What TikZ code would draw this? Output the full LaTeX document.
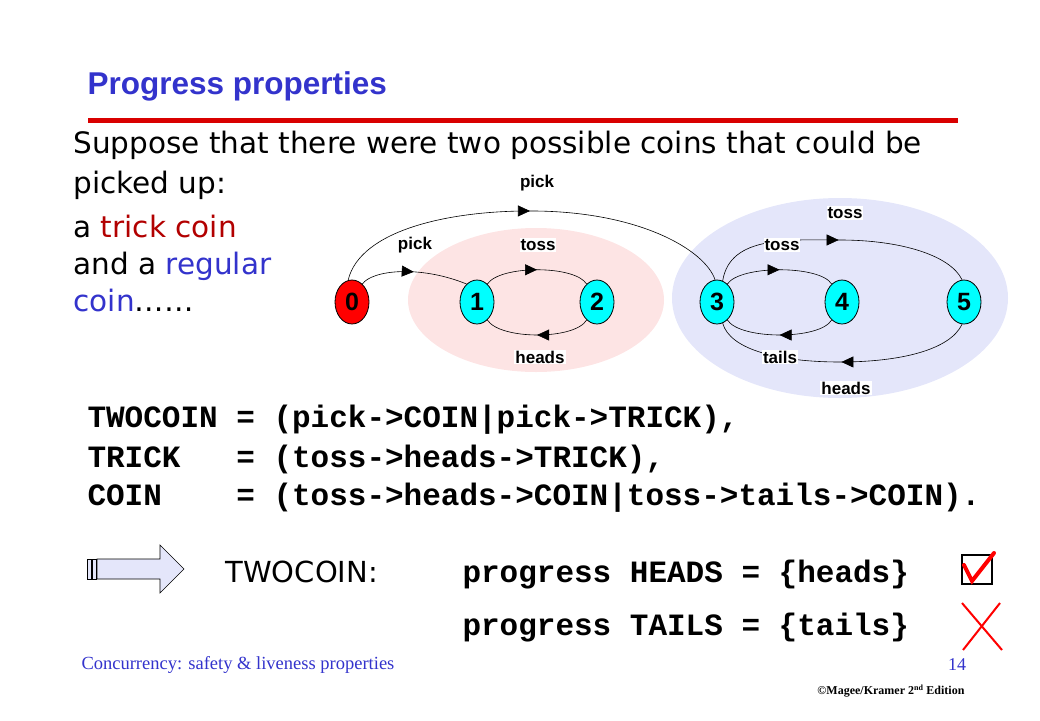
\documentclass[tikz,border=0pt]{standalone}
\usepackage{fontspec}
\setmainfont{Liberation Sans}
\newfontfamily\monob{Liberation Mono}
\newfontfamily\serifb{Liberation Serif}
\newfontfamily\comicf{DejaVu Sans}
\usetikzlibrary{decorations.markings,arrows.meta,shapes.geometric}
\definecolor{titleblue}{RGB}{51,51,204}
\definecolor{pinkbg}{RGB}{253,228,228}
\definecolor{bluebg}{RGB}{228,230,250}
\definecolor{cyanst}{RGB}{0,255,255}
\tikzset{
 st/.style={ellipse,draw,line width=0.8pt,minimum width=34pt,minimum height=44pt,inner sep=0pt,font=\bfseries\fontsize{25}{25}\selectfont,fill=cyanst},
 tr/.style={draw,line width=0.6pt,postaction={decorate},decoration={markings,mark=at position 0.5 with {\arrow{Triangle[length=12pt,width=11pt]}}}},
 lb/.style={fill=white,inner sep=1pt,font=\bfseries\fontsize{17}{17}\selectfont},
 body/.style={anchor=west,font=\comicf\fontsize{29.5}{39}\selectfont},
 code/.style={anchor=west,font=\monob\bfseries\fontsize{31}{31}\selectfont}
}
\begin{document}
\begin{tikzpicture}[x=1pt,y=-1pt]
\useasboundingbox (0,0) rectangle (1040,720);
\node[anchor=west,text=titleblue,font=\bfseries\fontsize{31.5}{31.5}\selectfont] (title) at (84,86) {Progress properties};
\fill[red!85!black] (88,118) rectangle (958,123);
\node[body] (sup1) at (70,145) {Suppose that there were two possible coins that could be};
\node[body] (sup2) at (70,185) {picked up:};
\node[body,align=left,anchor=north west] (trick) at (70,212) {a \textcolor{red!70!black}{trick coin}\\[-2pt]and a \textcolor{titleblue}{regular}\\[-2pt]\textcolor{titleblue}{coin}\dots\dots};
\fill[pinkbg] (536,300) ellipse [x radius=128, y radius=72];
\fill[bluebg] (840,298) ellipse [x radius=168, y radius=100];
\node[st,fill=red] (s0) at (352,302) {0};
\node[st] (s1) at (477,302) {1};
\node[st] (s2) at (597,302) {2};
\node[st] (s3) at (717,302) {3};
\node[st] (s4) at (842,302) {4};
\node[st] (s5) at (964,302) {5};
\draw[tr] (s0.60) .. controls (372,270) and (420,265) .. (s1.120);
\draw[tr] (s0.100) .. controls (360,230) and (450,210) .. (535,211) .. controls (640,212) and (705,250) .. (s3.95);
\draw[tr] (s1.60) .. controls (500,265) and (575,265) .. (s2.120);
\draw[tr] (s2.-120) .. controls (575,340) and (500,340) .. (s1.-60);
\draw[tr] (s3.60) .. controls (740,265) and (820,265) .. (s4.120);
\draw[tr] (s4.-120) .. controls (820,340) and (740,340) .. (s3.-60);
\draw[tr] (s3.75) .. controls (730,235) and (790,240) .. (840,240) .. controls (900,240) and (950,255) .. (s5.95);
\draw[tr] (s5.-95) .. controls (950,350) and (900,362) .. (840,362) .. controls (780,362) and (730,350) .. (s3.-75);
\node[lb] (l1) at (415,245) {pick};
\node[lb] (l2) at (537,183) {pick};
\node[lb] (l3) at (538,245) {toss};
\node[lb] (l4) at (540,357) {heads};
\node[lb] (l5) at (782,245) {toss};
\node[lb] (l6) at (845,213) {toss};
\node[lb] (l7) at (780,357) {tails};
\node[lb] (l8) at (846,388) {heads};
\node[code] (c1) at (84,420) {TWOCOIN\ =\ (pick->COIN|pick->TRICK),};
\node[code] (c2) at (84,459) {TRICK\ \ \ =\ (toss->heads->TRICK),};
\node[code] (c3) at (84,498) {COIN\ \ \ \ =\ (toss->heads->COIN|toss->tails->COIN).};
\draw[fill=bluebg,line width=0.6pt] (97,559) -- (160,559) -- (160,545) -- (184,569) -- (160,593) -- (160,579) -- (97,579) -- cycle;
\draw[fill=bluebg,line width=0.6pt] (87,559) rectangle (91,579);
\draw[fill=bluebg,line width=0.6pt] (92,559) rectangle (96,579);
\node[body,font=\comicf\fontsize{29}{29}\selectfont] (tw) at (222,572) {TWOCOIN:};
\node[code] (p1) at (459,575) {progress\ HEADS\ =\ \{heads\}};
\node[code] (p2) at (459,628) {progress\ TAILS\ =\ \{tails\}};
\draw[line width=1.8pt] (962,555) rectangle (992,584);
\draw[red,line width=4pt,line cap=round] (964,565) -- (972,581) -- (994,553);
\draw[red,line width=2pt] (962,603) -- (1002,650);
\draw[red,line width=2pt] (1000,603) -- (963,650);
\node[anchor=west,text=titleblue,font=\serifb\fontsize{18.5}{18.5}\selectfont] (foot) at (78,665) {Concurrency: safety \& liveness properties};
\node[text=titleblue,font=\serifb\fontsize{18}{18}\selectfont] (pg) at (957,665) {14};
\node[anchor=east,font=\serifb\bfseries\fontsize{12}{12}\selectfont] (copy) at (968,691) {©Magee/Kramer 2\textsuperscript{nd} Edition};
\end{tikzpicture}
\end{document}
